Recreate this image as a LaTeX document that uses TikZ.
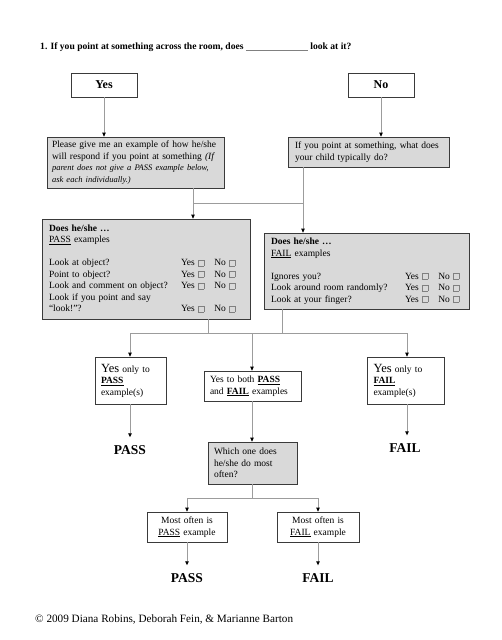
\documentclass[tikz,border=0pt]{standalone}
\usepackage{fontspec}
\setmainfont{Liberation Serif}
\usetikzlibrary{arrows.meta}
\definecolor{boxgray}{HTML}{D9D9D9}
\definecolor{linegray}{HTML}{9C9C9C}
\definecolor{edgegray}{HTML}{3A3A3A}
\newcommand{\sqbox}{{\setlength{\fboxsep}{0pt}\setlength{\fboxrule}{0.4pt}\textcolor{gray}{\fbox{\rule{0pt}{5.5pt}\hspace{5.5pt}}}}}
\newcommand{\yn}{Yes \sqbox & No \sqbox}
\begin{document}
\begin{tikzpicture}[x=1pt,y=-1pt,
  bodyfont/.style={font=\fontsize{9.5}{11.5}\selectfont},
  boxbase/.style={draw=edgegray, line width=0.7pt, inner sep=0pt, bodyfont},
  whitebox/.style={boxbase, fill=white},
  graybox/.style={boxbase, fill=boxgray},
  conn/.style={draw=linegray, line width=0.9pt},
  arr/.style={conn, -{Triangle[length=4pt,width=3.5pt,color=black]}},
  result/.style={font=\fontsize{13.5}{14}\selectfont\bfseries, inner sep=0pt}]
\useasboundingbox (0,0) rectangle (502,640);
\fill[white] (0,0) rectangle (502,640);

% title
\node[anchor=base west, inner sep=0pt, font=\fontsize{9.6}{11.5}\selectfont\bfseries] (title) at (40,49)
  {1. If you point at something across the room, does \textcolor{gray}{\rule[-1pt]{62pt}{0.5pt}} look at it?};

% top row
\node[whitebox, minimum width=66pt, minimum height=24pt, font=\fontsize{12}{12}\selectfont\bfseries] (yes) at (104,85) {Yes};
\node[whitebox, minimum width=66pt, minimum height=24pt, font=\fontsize{12}{12}\selectfont\bfseries] (no) at (381,85) {No};

% question boxes
\node[graybox, minimum width=177pt, minimum height=51pt, text width=171pt, align=left] (ask) at (135.5,162.5)
  {\hspace*{2pt}Please give me an example of how he/she\\
   \hspace*{2pt}will respond if you point at something {\itshape (If}\\
   \hspace*{2pt}{\fontsize{8.5}{11.5}\selectfont\itshape parent does not give a PASS example below,}\\
   \hspace*{2pt}{\fontsize{8.5}{11.5}\selectfont\itshape ask each individually.)}};
\node[graybox, minimum width=161pt, minimum height=30pt, text width=147pt, align=left] (typ) at (368.5,152)
  {If you point at something, what does\\ your child typically do?};

% example boxes
\node[graybox, minimum width=208pt, minimum height=100pt, text width=194pt, align=left] (passex) at (146,269)
  {\begin{tabular}{@{}p{132pt}@{}l@{\hspace{10pt}}l@{}}
   \textbf{Does he/she \dots}\\
   \underline{PASS} examples\\
   \\
   Look at object? & \yn\\
   Point to object? & \yn\\
   Look and comment on object? & \yn\\
   Look if you point and say\\
   ``look!''? & \yn
   \end{tabular}};
\node[graybox, minimum width=205pt, minimum height=76pt, text width=191pt, align=left] (failex) at (366.5,271)
  {\begin{tabular}{@{}p{134pt}@{}l@{\hspace{10pt}}l@{}}
   \textbf{Does he/she \dots}\\
   \underline{FAIL} examples\\
   \\
   Ignores you? & \yn\\
   Look around room randomly? & \yn\\
   Look at your finger? & \yn
   \end{tabular}};

% answer boxes
\node[whitebox, minimum width=71pt, minimum height=47pt, text width=59pt, align=left] (onlypass) at (130.5,380.5)
  {{\fontsize{12.5}{12}\selectfont Yes} only to\\ \underline{\textbf{PASS}}\\ example(s)};
\node[whitebox, minimum width=97pt, minimum height=30pt, text width=85pt, align=left] (both) at (252.5,386)
  {Yes to both \underline{\textbf{PASS}}\\ and \underline{\textbf{FAIL}} examples};
\node[whitebox, minimum width=77pt, minimum height=47pt, text width=65pt, align=left] (onlyfail) at (406,380.5)
  {{\fontsize{12.5}{12}\selectfont Yes} only to\\ \underline{\textbf{FAIL}}\\ example(s)};

\node[result] (pass1) at (130,450) {PASS};
\node[result] (fail1) at (405,448) {FAIL};

\node[graybox, minimum width=89pt, minimum height=42pt, text width=77pt, align=left] (which) at (252.5,463)
  {Which one does\\ he/she do most\\ often?};

\node[whitebox, minimum width=80pt, minimum height=30pt, text width=78pt, align=center] (mostpass) at (187,527)
  {Most often is\\ \underline{PASS} example};
\node[whitebox, minimum width=82pt, minimum height=30pt, text width=80pt, align=center] (mostfail) at (318,527)
  {Most often is\\ \underline{FAIL} example};

\node[result] (pass2) at (187,578) {PASS};
\node[result] (fail2) at (318,578) {FAIL};

\node[anchor=west, inner sep=0pt, font=\fontsize{11.2}{13}\selectfont] (copy) at (35,619)
  {© 2009 Diana Robins, Deborah Fein, \& Marianne Barton};

% junction coordinates
\coordinate (jl) at (193,203);
\coordinate (jr) at (303,203);
\coordinate (ja) at (208,333);
\coordinate (jb) at (282,333);
\coordinate (jL) at (130,333);
\coordinate (jM) at (252,333);
\coordinate (jR) at (407,333);
\coordinate (kM) at (252,498);
\coordinate (kL) at (187,498);
\coordinate (kR) at (318,498);

% connectors
\draw[arr] (yes.south) -- (ask.north -| yes.south);
\draw[arr] (no.south) -- (typ.north -| no.south);
\draw[arr] (ask.south -| jl) -- (passex.north -| jl);
\draw[arr] (typ.south -| jr) -- (failex.north -| jr);
\draw[conn] (jl) -- (jr);
\draw[conn] (passex.south -| ja) -- (ja);
\draw[conn] (failex.south -| jb) -- (jb);
\draw[conn] (jL) -- (jR);
\draw[arr] (jL) -- (onlypass.north -| jL);
\draw[arr] (jM) -- (both.north -| jM);
\draw[arr] (jR) -- (onlyfail.north -| jR);
\draw[arr] (onlypass.south -| jL) -- ([yshift=8pt]pass1.north -| jL);
\draw[arr] (onlyfail.south -| jR) -- ([yshift=8pt]fail1.north -| jR);
\draw[arr] (both.south -| jM) -- (which.north -| jM);
\draw[conn] (which.south -| kM) -- (kM);
\draw[conn] (kL) -- (kR);
\draw[arr] (kL) -- (mostpass.north -| kL);
\draw[arr] (kR) -- (mostfail.north -| kR);
\draw[arr] (mostpass.south -| kL) -- ([yshift=8pt]pass2.north -| kL);
\draw[arr] (mostfail.south -| kR) -- ([yshift=8pt]fail2.north -| kR);
\end{tikzpicture}
\end{document}
